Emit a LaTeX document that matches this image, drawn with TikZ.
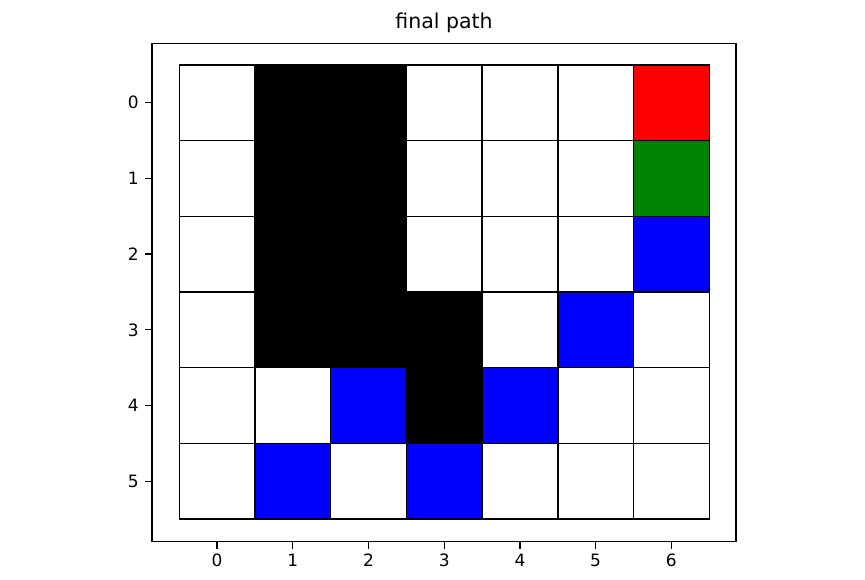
\documentclass[tikz,border=0pt]{standalone}
\usepackage{fontspec}
\setmainfont{DejaVu Sans}
\usepackage{xcolor}
\definecolor{pathStart}{HTML}{FF0000}
\definecolor{pathGoal}{HTML}{008000}
\definecolor{pathStep}{HTML}{0000FF}
\definecolor{pathWall}{HTML}{000000}

\begin{document}
\begin{tikzpicture}[x=1pt, y=-1pt]
  \useasboundingbox (0,0) rectangle (865,579);
  \tikzset{cell/.style={draw, line width=1.4pt, minimum size=75.7pt, inner sep=0pt, fill=white},
           ticklbl/.style={inner sep=0pt, font=\fontsize{17}{20}\selectfont}}
  \node[ticklbl, font=\fontsize{20.5}{24}\selectfont] (title) at (444,23) {final path};
  % grid
  \foreach \r in {0,...,5}
    \foreach \c in {0,...,6}
      \node[cell] (c\r\c) at ({217.1+75.71*\c},{102.8+75.67*\r}) {};
  \foreach \r/\c in {0/1,0/2,1/1,1/2,2/1,2/2,3/1,3/2,3/3,4/3}
    \node[cell, fill=pathWall] (w\r\c) at ({217.1+75.71*\c},{102.8+75.67*\r}) {};
  \foreach \r/\c in {2/6,3/5,4/4,5/3,4/2,5/1}
    \node[cell, fill=pathStep] (s\r\c) at ({217.1+75.71*\c},{102.8+75.67*\r}) {};
  \node[cell, fill=pathStart] (start) at ({217.1+75.71*6},102.8) {};
  \node[cell, fill=pathGoal] (goal) at ({217.1+75.71*6},{102.8+75.67}) {};
  % axes
  \draw[line width=1.3pt] (152,43.5) rectangle (736,541.5);
  \foreach \c in {0,...,6} {
    \draw[line width=1.3pt] ({217.1+75.71*\c},541.5) -- ({217.1+75.71*\c},548.5);
    \node[ticklbl, anchor=north] (x\c) at ({217.1+75.71*\c},554) {\c};
  }
  \foreach \r in {0,...,5} {
    \draw[line width=1.3pt] (152,{102.8+75.67*\r}) -- (145,{102.8+75.67*\r});
    \node[ticklbl, anchor=east] (y\r) at (139,{102.8+75.67*\r}) {\r};
  }
\end{tikzpicture}
\end{document}
